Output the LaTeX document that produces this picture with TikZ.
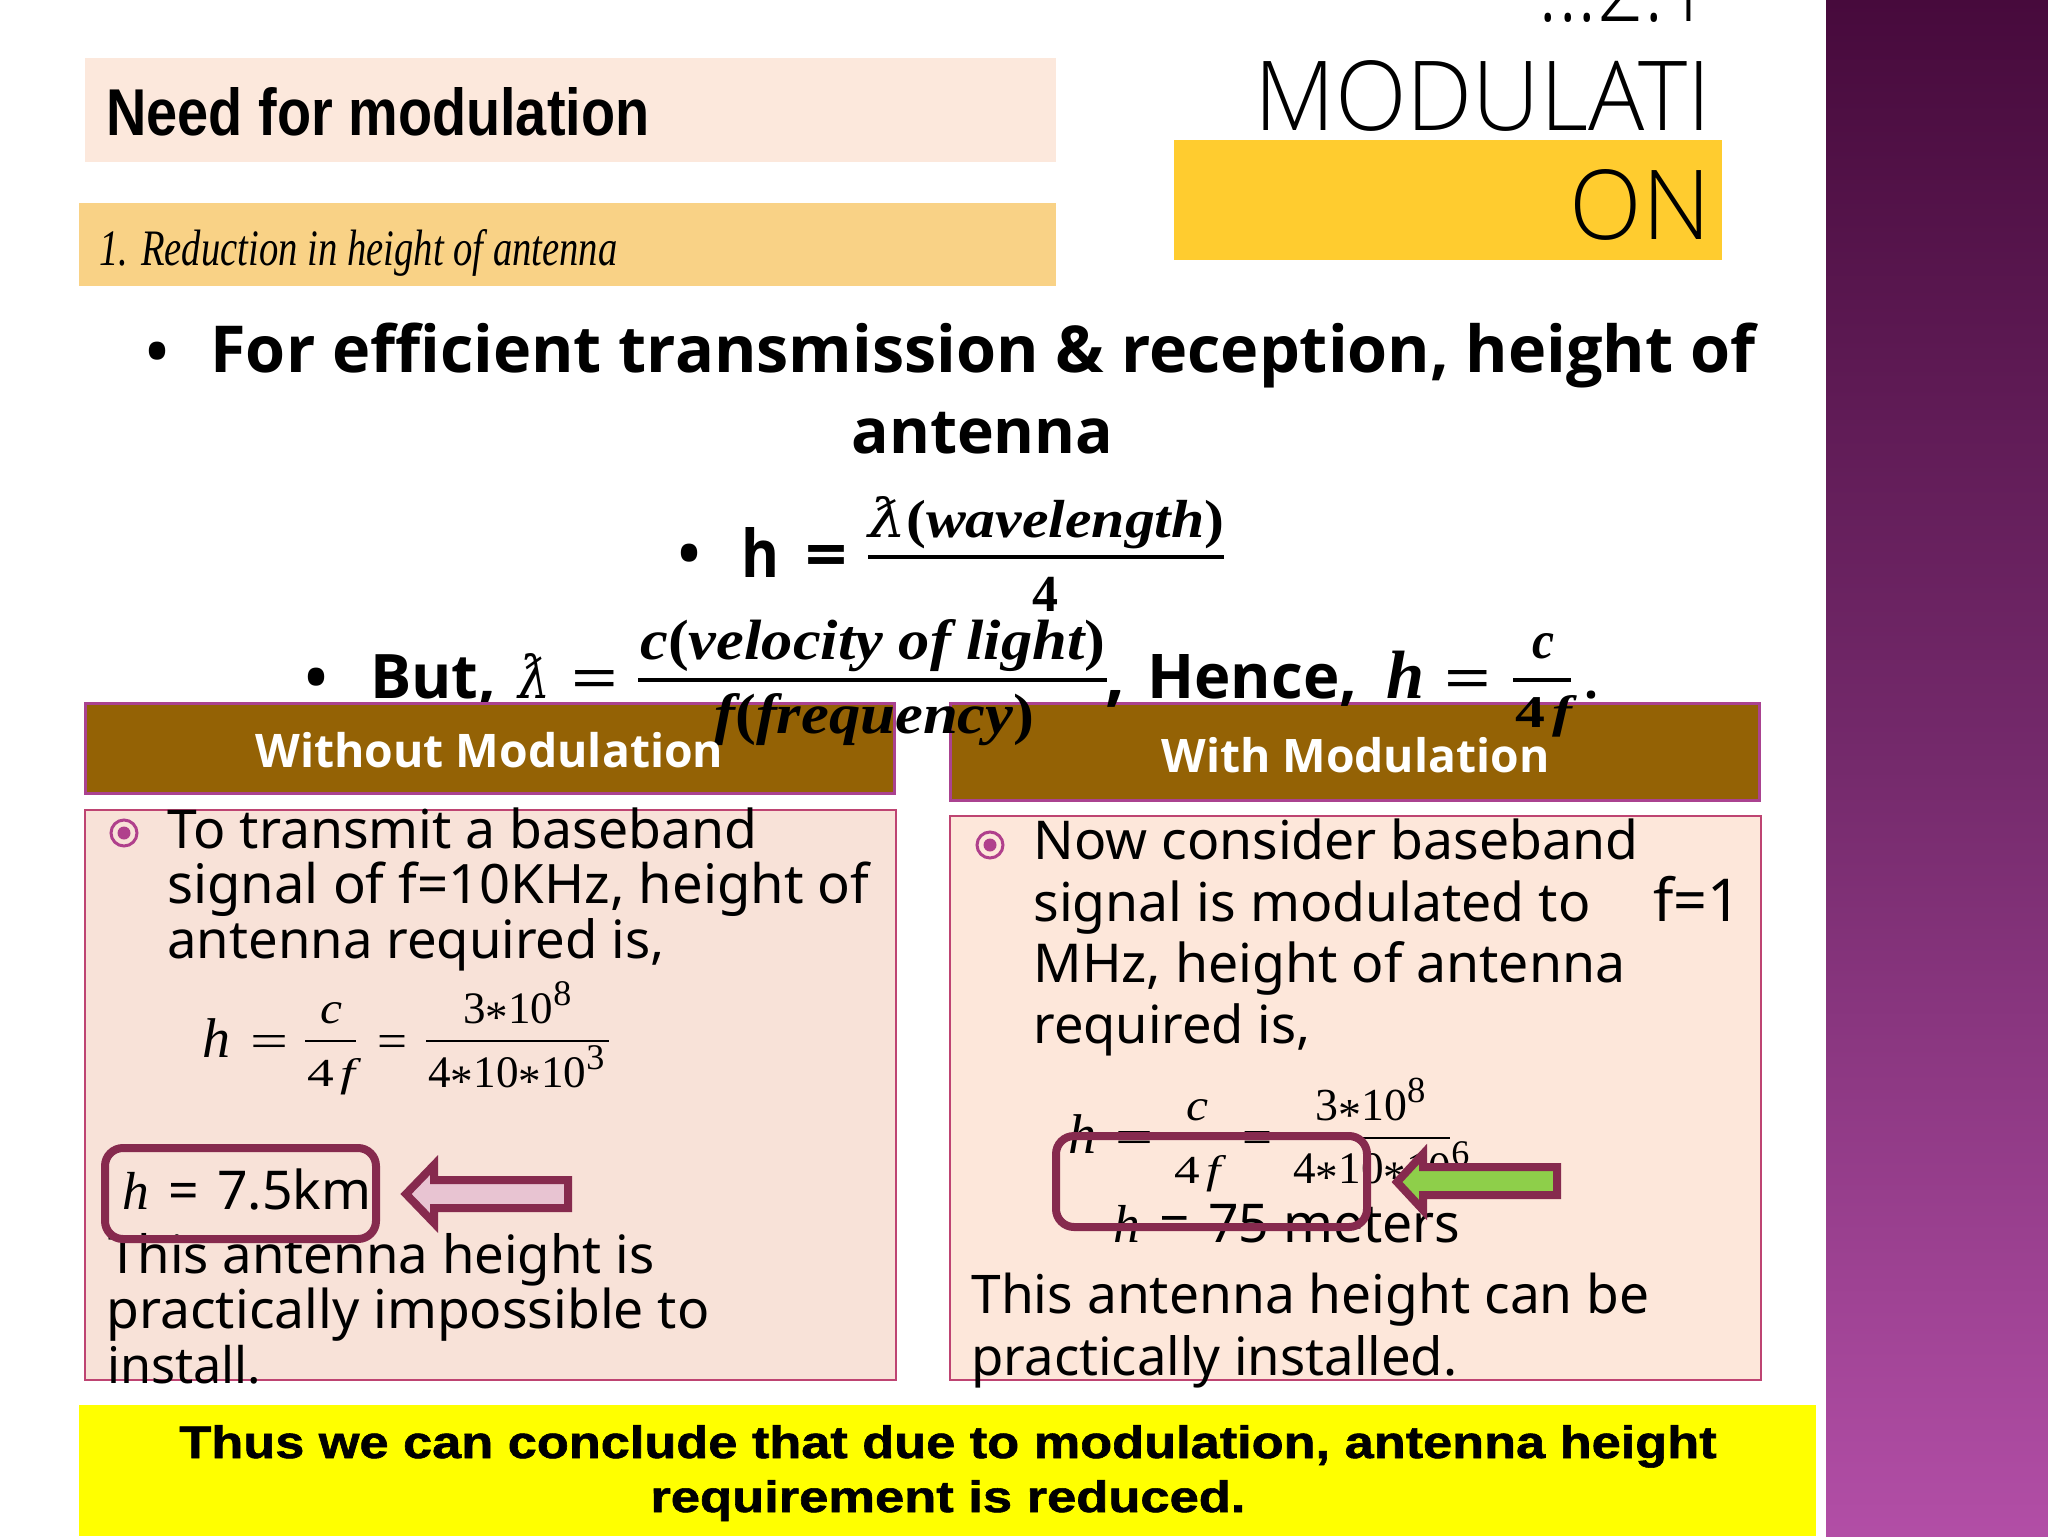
\documentclass[tikz,border=0pt]{standalone}
\usepackage{fontspec}
\usepackage{graphicx}
\setmainfont{Noto Sans}
\newfontfamily\titlef{Open Sans}
\newfontfamily\titlel{Open Sans Light}
\newfontfamily\arialf{Liberation Sans}
\newfontfamily\arialh{Liberation Sans}[BoldFeatures={FakeBold=1.2}]
\newfontfamily\serifm{Liberation Serif}
\newfontfamily\dejaserif{DejaVu Serif}
\newlength\pxu \setlength\pxu{0.5pt}
\newcommand{\fitpx}[2]{\resizebox{#1\pxu}{!}{#2}}
\newcommand{\fitwh}[3]{\resizebox{#1\pxu}{#2\pxu}{#3}}
\newcommand{\astm}{\raisebox{-.22em}{*}}
\newcommand{\supm}[1]{\raisebox{.38em}{\footnotesize #1}}
\definecolor{bandtop}{HTML}{470A3C}
\definecolor{bandmid}{HTML}{752A6C}
\definecolor{bandbot}{HTML}{B24EA6}
\definecolor{peach}{HTML}{FCE8DC}
\definecolor{sand}{HTML}{F9D286}
\definecolor{gold}{HTML}{FFCC2F}
\definecolor{brownhd}{HTML}{946205}
\definecolor{magline}{HTML}{AA4290}
\definecolor{bodyL}{HTML}{F8E2D8}
\definecolor{bodyR}{HTML}{FDE7DA}
\definecolor{bodyline}{HTML}{BE4472}
\definecolor{wine}{HTML}{862A4E}
\definecolor{bulletc}{HTML}{B0408C}
\definecolor{pinkfill}{HTML}{E8C4D2}
\definecolor{greenfill}{HTML}{8ECF4A}
\definecolor{concl}{HTML}{FFFF00}
\tikzset{
  txt/.style={inner sep=0,anchor=base west},
  txtr/.style={inner sep=0,anchor=base east},
  txtc/.style={inner sep=0,anchor=base},
  header/.style={fill=brownhd,draw=magline,line width=1.5pt},
  bodybox/.style={draw=bodyline,line width=1pt},
  ring/.style={draw=wine,line width=4pt,rounded corners=9pt},
  blockarrow/.style={draw=wine,line width=4pt,miter limit=10},
  fracbar/.style={draw=black,line width=1.3pt},
  fracbarbig/.style={draw=black,line width=2pt},
}
\begin{document}
\begin{tikzpicture}[x=0.5pt,y=-0.5pt]
\useasboundingbox (0,0) rectangle (2048,1536);
\fill[white] (0,0) rectangle (2048,1536);
% band
\fill[top color=bandbot,bottom color=bandtop,middle color=bandmid,shading angle=180] (1826,0) rectangle (2048,1536);
% title boxes
\fill[peach] (85,58) rectangle (1056,162);
\fill[sand] (79,203) rectangle (1056,286);
\fill[gold] (1174,140) rectangle (1722,260);
\node[txt] (need) at (106,135) {\fitwh{543}{48}{\arialf\bfseries Need for modulation}};
\node[txt] (reduc) at (99,265) {\fitwh{518}{36}{\serifm\itshape 1. Reduction in height of antenna}};
\node[txtr] (t1) at (1711,22) {\fitwh{172}{70}{\titlel ...2.1}};
\node[txtr] (t2) at (1711,130) {\fitwh{456}{70}{\titlel MODULATI}};
\node[txtr] (t3) at (1711,239) {\fitwh{141}{70}{\titlel ON}};
% main bullets
\node[txtc] (b1) at (157,372) {\fitpx{22}{\titlef\bfseries •}};
\node[txt] (l1) at (210,372) {\fitpx{1545}{\titlef\bfseries For efficient transmission \& reception, height of}};
\node[txt] (l2) at (851,453) {\fitpx{262}{\titlef\bfseries antenna}};
\node[txtc] (b2) at (689,574) {\fitpx{22}{\titlef\bfseries •}};
\node[txt] (hb) at (741,577) {\fitwh{38}{50}{\titlef\bfseries h}};
\node[txt] (eqb) at (805,577) {\fitwh{42}{32}{\titlef\bfseries =}};
\node[txt] (num1) at (868,537) {\fitwh{356}{41}{\serifm\bfseries\itshape {\dejaserif\mdseries ƛ}\upshape(\itshape wavelength\upshape)}};
\draw[fracbarbig] (868,557) -- (1224,557);
\node[txtc] (den1) at (1045,611) {\fitpx{26}{\serifm\bfseries 4}};
\node[txtc] (b3) at (316,698) {\fitpx{22}{\titlef\bfseries •}};
\node[txt] (but) at (370,698) {\fitpx{126}{\titlef\bfseries But,}};
\node[txt] (lam) at (518,698) {\fitwh{32}{45}{\dejaserif\itshape ƛ}};
\node[txt] (eq2) at (571,698) {\fitwh{47}{28}{\serifm\bfseries =}};
\node[txt] (num2) at (640,659) {\fitwh{465}{40}{\serifm\bfseries\itshape c\upshape(\itshape velocity of light\upshape)}};
\draw[fracbarbig] (638,680) -- (1107,680);
% headers
\node[header,inner sep=0,minimum width=809\pxu,minimum height=90\pxu,anchor=north west] (hdL) at (84,702) {};
\node[header,inner sep=0,minimum width=809\pxu,minimum height=97\pxu,anchor=north west] (hdR) at (949,702) {};
\node[txt] (den2) at (714,733) {\fitwh{320}{40}{\serifm\bfseries\itshape f\upshape(\itshape frequency\upshape)}};
\node[txt] (comma) at (1105,698) {\fitpx{20}{\titlef\bfseries ,}};
\node[txt] (hence) at (1147,698) {\fitpx{210}{\titlef\bfseries Hence,}};
\node[txt] (h2) at (1386,698) {\fitpx{38}{\serifm\bfseries\itshape h}};
\node[txt] (eq3) at (1444,698) {\fitwh{47}{28}{\serifm\bfseries =}};
\node[txtc] (c3) at (1543,658) {\fitwh{22}{25}{\serifm\bfseries\itshape c}};
\draw[fracbarbig] (1513,680) -- (1571,680);
\node[txt] (f3) at (1515,727) {\fitwh{57}{32}{\serifm\bfseries 4\kern.12em\itshape f}};
\node[txt] (dot3) at (1584,698) {\fitpx{14}{\titlef\bfseries .}};
\node[txt,white] (hdLt) at (255,767) {\fitpx{468}{\titlef\bfseries Without Modulation}};
\node[txt,white] (hdRt) at (1161,772) {\fitpx{388}{\titlef\bfseries With Modulation}};
% body boxes
\fill[bodyL] (85,810) rectangle (896,1380);
\draw[bodybox] (85,810) rectangle (896,1380);
\fill[bodyR] (950,816) rectangle (1761,1380);
\draw[bodybox] (950,816) rectangle (1761,1380);
% left text
\draw[bulletc,line width=1.5pt] (124,833) circle (13);
\fill[bulletc] (124,833) circle (6.5);
\node[txt] (a1) at (167,848) {\fitpx{590}{To transmit a baseband}};
\node[txt] (a2) at (167,903) {\fitpx{702}{signal of f=10KHz, height of}};
\node[txt] (a3) at (167,958) {\fitpx{497}{antenna required is,}};
\node[txt] (fa1) at (202,1057) {\fitpx{28}{\serifm\itshape h}};
\node[txt] (fa2) at (250,1057) {\fitwh{38}{22}{\serifm =}};
\node[txtc] (fa3) at (331,1023) {\fitwh{22}{21}{\serifm\itshape c}};
\draw[fracbar] (305,1041) -- (356,1041);
\node[txt] (fa4) at (307,1086) {\fitwh{48}{28}{\serifm 4\kern.12em\itshape f}};
\node[txt] (fa5) at (377,1057) {\fitwh{30}{22}{\serifm =}};
\node[txt] (fa6) at (463,1023) {\fitpx{108}{\serifm 3\astm 10\supm{8}}};
\draw[fracbar] (426,1041) -- (609,1041);
\node[txt] (fa7) at (428,1087) {\fitpx{176}{\serifm 4\astm 10\astm 10\supm{3}}};
\node[txt] (ans1) at (122,1209) {\fitpx{249}{{\serifm\itshape h}\kern.1em\ =\kern.08em\ 7.5km}};
\node[txt] (a4) at (108,1273) {\fitpx{546}{This antenna height is}};
\node[txt] (a5) at (106,1328) {\fitpx{603}{practically impossible to}};
\node[txt] (a6) at (107,1383) {\fitpx{154}{install.}};
\draw[ring] (105,1148) rectangle (376,1239);
\draw[blockarrow,fill=pinkfill] (568,1180) -- (434,1180) -- (434,1165) -- (406,1194) -- (434,1223) -- (434,1208) -- (568,1208) -- cycle;
% right text
\draw[bulletc,line width=1.5pt] (990,845) circle (13);
\fill[bulletc] (990,845) circle (6.5);
\node[txt] (r1) at (1033,859) {\fitpx{605}{Now consider baseband}};
\node[txt] (r2) at (1033,921) {\fitpx{557}{signal is modulated to}};
\node[txt] (r2b) at (1653,921) {\fitpx{88}{f=1}};
\node[txt] (r3) at (1033,982) {\fitpx{592}{MHz, height of antenna}};
\node[txt] (r4) at (1033,1043) {\fitpx{277}{required is,}};
\node[txt] (fb1) at (1068,1153) {\fitpx{28}{\serifm\itshape h}};
\node[txt] (fb2) at (1115,1153) {\fitwh{38}{22}{\serifm =}};
\node[txtc] (fb3) at (1197,1120) {\fitwh{22}{21}{\serifm\itshape c}};
\draw[fracbar] (1172,1138) -- (1222,1138);
\node[txt] (fb4) at (1174,1183) {\fitwh{46}{28}{\serifm 4\kern.12em\itshape f}};
\node[txt] (fb5) at (1242,1153) {\fitwh{30}{22}{\serifm =}};
\node[txt] (fb6) at (1315,1120) {\fitpx{110}{\serifm 3\astm 10\supm{8}}};
\draw[fracbar] (1290,1138) -- (1450,1138);
\node[txt] (fb7) at (1293,1183) {\fitpx{176}{\serifm 4\astm 10\astm 10\supm{6}}};
\node[txt] (ans2) at (1113,1242) {\fitpx{347}{{\serifm\itshape h}\kern.1em\ =\kern.08em\ 75 meters}};
\node[txt] (r5) at (971,1313) {\fitpx{678}{This antenna height can be}};
\node[txt] (r6) at (971,1375) {\fitpx{486}{practically installed.}};
\draw[ring] (1056,1136) rectangle (1367,1227);
\draw[blockarrow,fill=greenfill] (1557,1167) -- (1423,1167) -- (1423,1154) -- (1397,1182) -- (1423,1210) -- (1423,1195) -- (1557,1195) -- cycle;
% conclusion
\fill[concl] (79,1405) rectangle (1816,1536);
\node[txt] (c1) at (179,1458) {\fitwh{1537}{33}{\arialh\bfseries Thus we can conclude that due to modulation, antenna height}};
\node[txt] (c2) at (650,1512) {\fitwh{595}{32}{\arialh\bfseries requirement is reduced.}};
\end{tikzpicture}
\end{document}
